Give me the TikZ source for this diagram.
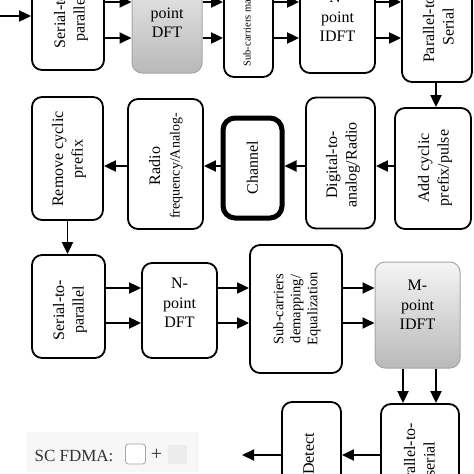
\documentclass[tikz,border=0pt]{standalone}
\usepackage{fontspec}
\setmainfont{Liberation Serif}
\usetikzlibrary{arrows.meta}
\newcommand\rtx[1]{\rotatebox{90}{\begin{tabular}{@{}c@{}}#1\end{tabular}}}
\begin{document}
\begin{tikzpicture}[x=1pt,y=-1pt,
 blk/.style={draw, line width=1.8pt, rounded corners=10pt, inner sep=0pt},
 gblk/.style={draw=gray!70, line width=1pt, rounded corners=10pt, top color=gray!8, bottom color=gray!55, inner sep=0pt},
 txt/.style={inner sep=0pt, font=\fontsize{16}{19.5}\selectfont, align=center},
 arr/.style={line width=1.9pt, -{Triangle[length=12pt,width=11pt]}}]
\useasboundingbox (0,0) rectangle (474,474);
\clip (0,0) rectangle (474,474);
% row coordinates
\coordinate (r1a) at (0,2);
\coordinate (r1b) at (0,38);
\coordinate (r2) at (0,166);
\coordinate (r3a) at (0,288);
\coordinate (r3b) at (0,323);
\coordinate (r4) at (0,455);
\coordinate (c1) at (403,0);
\coordinate (c2) at (436,0);
\coordinate (in) at (0,16);
\coordinate (out) at (242,455);
% row 1
\node[blk, minimum width=72pt, minimum height=104pt] (sp1) at (68,18) {};
\node[txt] (sp1t) at (71,18) {\rtx{Serial-to-\\parallel}};
\node[gblk, minimum width=70pt, minimum height=118pt] (dft1) at (167,14) {};
\node[txt] (dft1t) at (167,13) {M-\\point\\DFT};
\node[blk, minimum width=49pt, minimum height=112pt] (map1) at (248.5,21) {};
\node[txt, font=\fontsize{10.5}{12}\selectfont] (map1t) at (248,21) {\rotatebox{90}{Sub-carriers mapping}};
\node[blk, minimum width=75pt, minimum height=112pt] (idft1) at (337.5,17) {};
\node[txt] (idft1t) at (337.5,17) {N-\\point\\IDFT};
\node[blk, minimum width=70pt, minimum height=110pt] (ps1) at (437,27) {};
\node[txt] (ps1t) at (440,27) {\rtx{Parallel-to-\\Serial}};
% row 2
\node[blk, minimum width=76pt, minimum height=121pt] (acp) at (433,168.5) {};
\node[txt] (acpt) at (435,168) {\rtx{Add cyclic\\prefix/pulse}};
\node[blk, minimum width=69pt, minimum height=131pt] (dar) at (340.5,163) {};
\node[txt] (dart) at (343,165) {\rtx{Digital-to-\\analog/Radio}};
\node[draw, line width=5pt, rounded corners=12pt, minimum width=59pt, minimum height=100pt, inner sep=0pt] (ch) at (252.5,168) {};
\node[txt] (cht) at (254,168) {\rtx{Channel}};
\node[blk, minimum width=75pt, minimum height=130pt] (rf) at (165.5,164) {};
\node[txt] (rft) at (166,166) {\rtx{Radio\\{\fontsize{14}{17}\selectfont frequency/Analog-}}};
\node[blk, minimum width=71pt, minimum height=123pt] (rcp) at (67.5,158.5) {};
\node[txt] (rcpt) at (69,159) {\rtx{Remove cyclic\\prefix}};
% row 3
\node[blk, minimum width=73pt, minimum height=103pt] (sp2) at (68.5,306.5) {};
\node[txt] (sp2t) at (70,310) {\rtx{Serial-to-\\parallel}};
\node[blk, minimum width=75pt, minimum height=95pt] (dft2) at (179.5,310.5) {};
\node[txt] (dft2t) at (179.5,303) {N-\\point\\DFT};
\node[blk, minimum width=92pt, minimum height=128pt] (dem) at (296,309) {};
\node[txt, font=\fontsize{14.5}{17}\selectfont] (demt) at (297,309) {\rtx{Sub-carriers\\demapping/\\Equalization}};
\node[gblk, minimum width=85pt, minimum height=106pt] (idft2) at (417.5,315) {};
\node[txt] (idft2t) at (417.5,305) {M-\\point\\IDFT};
% row 4
\node[blk, minimum width=78pt, minimum height=110pt] (ps2) at (420,459) {};
\node[txt] (ps2t) at (421,459) {\rtx{Parallel-to-\\serial}};
\node[blk, minimum width=59pt, minimum height=104pt] (det) at (311.5,454) {};
\node[txt] (dett) at (310,454) {\rtx{Detect}};
% arrows row 1
\draw[arr] (in) -- (in -| sp1.west);
\foreach \r in {r1a,r1b}{
  \draw[arr] (sp1.east |- \r) -- (dft1.west |- \r);
  \draw[arr] (dft1.east |- \r) -- (map1.west |- \r);
  \draw[arr] (map1.east |- \r) -- (idft1.west |- \r);
  \draw[arr] (idft1.east |- \r) -- (ps1.west |- \r);
}
\draw[arr] (c2 |- ps1.south) -- (c2 |- acp.north);
% row 2
\draw[arr] (acp.west |- r2) -- (dar.east |- r2);
\draw[arr] (dar.west |- r2) -- (ch.east |- r2);
\draw[arr] (ch.west |- r2) -- (rf.east |- r2);
\draw[arr] (rf.west |- r2) -- (rcp.east |- r2);
\draw[arr] (rcp.south) -- (rcp.south |- sp2.north);
% row 3
\foreach \r in {r3a,r3b}{
  \draw[arr] (sp2.east |- \r) -- (dft2.west |- \r);
  \draw[arr] (dft2.east |- \r) -- (dem.west |- \r);
  \draw[arr] (dem.east |- \r) -- (idft2.west |- \r);
}
\draw[arr] (c1 |- idft2.south) -- (c1 |- ps2.north);
\draw[arr] (c2 |- idft2.south) -- (c2 |- ps2.north);
% row 4
\draw[arr] (ps2.west |- r4) -- (det.east |- r4);
\draw[arr] (det.west |- r4) -- (out);
% legend
\node[fill=gray!6, minimum width=172pt, minimum height=40pt, inner sep=0pt] (leg) at (113,452) {};
\node[inner sep=0pt, font=\fontsize{17}{20}\selectfont, text=black!80] (legt) at (74,456) {SC FDMA:};
\node[draw=gray!70, fill=white, rounded corners=3pt, minimum size=20pt, inner sep=0pt, line width=0.8pt] (lega) at (135.5,454) {};
\node[inner sep=0pt, font=\fontsize{20}{22}\selectfont, text=black!80] (legp) at (156.5,455) {+};
\node[fill=gray!15, minimum size=19pt, inner sep=0pt] (legb) at (177.5,454.5) {};
\end{tikzpicture}
\end{document}
